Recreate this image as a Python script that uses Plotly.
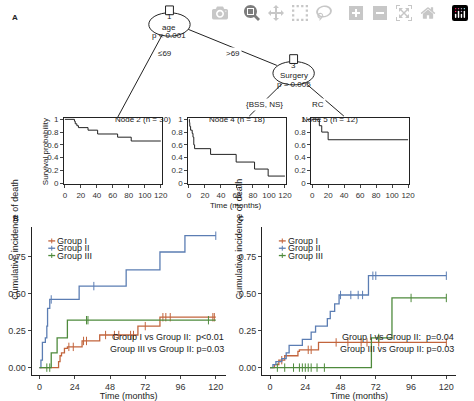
import plotly.graph_objects as go

W, H = 474, 401
def px(x): return x / W
def py(y): return 1 - y / H

# ---- Panel A data (survival probability) ----
node2_t = [0, 12, 13, 15, 17, 29, 41, 66, 83, 120]
node2_s = [1, 0.97, 0.93, 0.90, 0.87, 0.83, 0.77, 0.72, 0.66, 0.66]
node4_t = [0, 0.5, 1, 2, 4, 5, 6, 7, 27, 59, 82, 99, 120]
node4_s = [1, 0.95, 0.89, 0.83, 0.78, 0.72, 0.60, 0.54, 0.45, 0.33, 0.22, 0.11, 0.11]
node5_t = [0, 9, 12, 20, 120]
node5_s = [1, 0.90, 0.80, 0.68, 0.68]
node_titles = ["Node 2 (n = 30)", "Node 4 (n = 18)", "Node 5 (n = 12)"]

# ---- Panel B data (cumulative incidence) ----
b1_t = [0, 12, 13, 14, 15, 17, 19, 29, 41, 67, 82, 120]
b1_y = [0, 0, 0.04, 0.08, 0.10, 0.13, 0.14, 0.18, 0.22, 0.28, 0.34, 0.34]
b1_c = [20, 23, 30, 32, 45, 51, 54, 62, 64, 72, 84, 86, 89, 118, 119]
b2_t = [0, 1, 2, 4, 5, 5.5, 7, 27, 59, 82, 99, 120]
b2_y = [0, 0.05, 0.17, 0.20, 0.28, 0.40, 0.46, 0.55, 0.66, 0.78, 0.89, 0.89]
b2_c = [8, 37, 120]
b3_t = [0, 8, 12, 19, 120]
b3_y = [0, 0.10, 0.20, 0.32, 0.32]
b3_c = [5, 7, 32, 33, 115]

# ---- Panel C data ----
c1_t = [0, 3, 6, 10, 19, 20, 33, 120]
c1_y = [0, 0.02, 0.05, 0.08, 0.11, 0.12, 0.17, 0.17]
c1_c = [8, 26, 28, 45, 53, 62, 66, 74, 120]
c2_t = [0, 2, 4, 8, 11, 13, 22, 28, 31, 39, 41, 44, 47, 67, 120]
c2_y = [0, 0.02, 0.04, 0.06, 0.10, 0.15, 0.19, 0.24, 0.28, 0.33, 0.38, 0.43, 0.49, 0.62, 0.62]
c2_c = [48, 55, 60, 63, 70, 72, 120]
c3_t = [0, 69, 83, 120]
c3_y = [0, 0.20, 0.47, 0.47]
c3_c = [5, 10, 16, 20, 22, 24, 26, 28, 32, 37, 74, 96, 120]

group_names = ["Group I", "Group II", "Group III"]
colors = ["#c2643c", "#5b7db3", "#4e8a3c"]

def step_at(ts, ys, t):
    v = ys[0]
    for a, b in zip(ts, ys):
        if a <= t: v = b
    return v

fig = go.Figure()
FONT = "Liberation Sans, Arial"

def ann(x, y, t, size=8, **kw):
    fig.add_annotation(x=px(x), y=py(y), xref="paper", yref="paper", text=t, showarrow=False,
                       font=dict(size=size, color="#222"), **kw)

# Panel A subplots
a_doms = [(64, 163), (190, 289), (315, 414)]
nodes = [(node2_t, node2_s), (node4_t, node4_s), (node5_t, node5_s)]
for i, ((x0, x1), (t, s)) in enumerate(zip(a_doms, nodes)):
    k = "" if i == 0 else str(i + 1)
    fig.add_trace(go.Scatter(x=t, y=s, mode="lines", line=dict(color="#222", width=1, shape="hv"),
                             xaxis="x" + k, yaxis="y" + k, showlegend=False))
    ax = dict(domain=[px(x0), px(x1)], range=[-1, 121], tickvals=[0, 20, 40, 60, 80, 100, 120],
              showline=True, mirror=True, linecolor="#222", linewidth=1, ticks="outside", ticklen=3,
              showgrid=False, zeroline=False, tickfont=dict(size=8, color="#333"), anchor="y" + k)
    ay = dict(domain=[py(186), py(118)], range=[-0.02, 1.02], tickvals=[0, 0.2, 0.4, 0.6, 0.8, 1],
              ticktext=["0", "0.2", "0.4", "0.6", "0.8", "1"],
              showline=True, mirror=True, linecolor="#222", linewidth=1, ticks="outside", ticklen=3,
              showgrid=False, zeroline=False, tickfont=dict(size=8, color="#333"), anchor="x" + k)
    fig.layout["xaxis" + k] = ax
    fig.layout["yaxis" + k] = ay
    ann((x0 + x1) / 2, 113, node_titles[i])

# Panels B and C
panels = [
    ((31, 228), [(b1_t, b1_y, b1_c), (b2_t, b2_y, b2_c), (b3_t, b3_y, b3_c)], 4,
     ["Group I vs Group II:  p<0.01", "Group III vs Group II: p=0.03"], 7),
    ((265, 462), [(c1_t, c1_y, c1_c), (c2_t, c2_y, c2_c), (c3_t, c3_y, c3_c)], 5,
     ["Group I vs Group II:  p=0.04", "Group III vs Group II: p=0.03"], 241),
]
for (x0, x1), series, n, ptxt, ylx in panels:
    k = str(n)
    for j, (t, y, c) in enumerate(series):
        fig.add_trace(go.Scatter(x=t, y=y, mode="lines", line=dict(color=colors[j], width=1.3, shape="hv"),
                                 xaxis="x" + k, yaxis="y" + k, showlegend=False))
        fig.add_trace(go.Scatter(x=c, y=[step_at(t, y, v) for v in c], mode="markers",
                                 marker=dict(symbol="line-ns", size=6, line=dict(color=colors[j], width=1)),
                                 xaxis="x" + k, yaxis="y" + k, showlegend=False))
    fig.layout["xaxis" + k] = dict(domain=[px(x0), px(x1)], range=[-5.4, 126.7], tickvals=[0, 24, 48, 72, 96, 120],
                                   showline=True, linecolor="#222", linewidth=1, ticks="outside", ticklen=3,
                                   showgrid=False, zeroline=False, tickfont=dict(size=9, color="#333"),
                                   anchor="y" + k, title=dict(text="Time (months)", font=dict(size=9, color="#222"), standoff=2))
    fig.layout["yaxis" + k] = dict(domain=[py(382), py(230)], range=[-0.053, 0.947],
                                   tickvals=[0, 0.25, 0.5, 0.75], ticktext=["0.00", "0.25", "0.50", "0.75"],
                                   showline=True, linecolor="#222", linewidth=1, ticks="outside", ticklen=3,
                                   showgrid=False, zeroline=False, tickfont=dict(size=9, color="#333"),
                                   anchor="x" + k)
    for j in range(3):
        yy = 244 + 7.5 * j
        fig.add_shape(type="line", x0=px(x0 + 17), x1=px(x0 + 24), y0=py(yy), y1=py(yy), xref="paper", yref="paper",
                      line=dict(color=colors[j], width=1.3))
        fig.add_shape(type="line", x0=px(x0 + 20.5), x1=px(x0 + 20.5), y0=py(yy - 2.5), y1=py(yy + 2.5),
                      xref="paper", yref="paper", line=dict(color=colors[j], width=1))
        ann(x0 + 24, yy, group_names[j], size=9, xanchor="left")
    for j, tx in enumerate(ptxt):
        ann(x1, 350 + 12 * j, tx, size=9, xanchor="right")
    ann(ylx, 306, "Cumulative incidence of death", size=9, textangle=-90)

# Panel A tree
def line(a, b, c, d):
    fig.add_shape(type="line", x0=px(a), y0=py(b), x1=px(c), y1=py(d), xref="paper", yref="paper",
                  line=dict(color="#222", width=1))
line(164, 32, 118, 118)
line(190, 27, 280, 64)
line(286, 82, 252, 116)
line(310, 83, 348, 116)
for cx, cy, lab, t1, t2 in [(171, 22, "1", "age", "p < 0.001"), (297, 72, "3", "Surgery", "p = 0.005")]:
    fig.add_shape(type="circle", x0=px(cx - 21), x1=px(cx + 21), y0=py(cy + 12), y1=py(cy - 12),
                  xref="paper", yref="paper", line=dict(color="#222", width=1), fillcolor="white")
    fig.add_shape(type="rect", x0=px(cx - 4), x1=px(cx + 4), y0=py(cy - 10), y1=py(cy - 19),
                  xref="paper", yref="paper", line=dict(color="#222", width=1), fillcolor="white")
    ann(cx, cy - 14.5, lab)
    ann(cx, cy - 4, t1)
    ann(cx, cy + 5, t2)
for x, y, t in [(157, 45, "≤69"), (235, 45, ">69"), (267, 97, "{BSS, NS}"), (330, 97, "RC")]:
    ann(x, y, t, bgcolor="white")
ann(239, 208, "Time (months)")
ann(38, 152, "Survival probability", textangle=-90)
for x, y, t in [(9, 8, "A"), (10, 221, "B"), (244, 221, "C")]:
    ann(x, y, "<b>%s</b>" % t)

fig.update_layout(width=W, height=H, margin=dict(l=0, r=0, t=0, b=0), plot_bgcolor="white",
                  paper_bgcolor="white", font=dict(family=FONT), showlegend=False)
fig.write_html("out.html", post_script="document.body.style.margin='0';document.body.style.overflow='hidden';")
